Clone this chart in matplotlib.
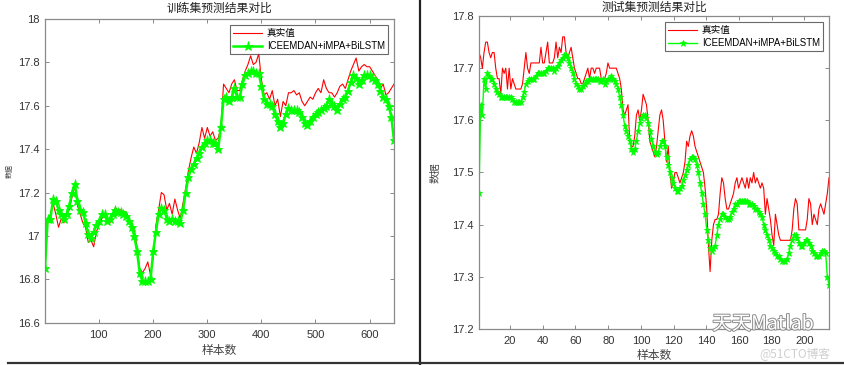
import numpy as np
import matplotlib
matplotlib.use("Agg")
import matplotlib.pyplot as plt
from matplotlib.lines import Line2D
import matplotlib.patheffects as pe

plt.rcParams['font.family'] = ['Liberation Sans', 'Noto Sans CJK SC', 'DejaVu Sans']

# ---------------- data ----------------
train_n = 645
test_n = 215

# training set, read every 5 samples
train_true = [
    17.04, 17.07, 17.10, 17.15, 17.10, 17.04, 17.08, 17.06, 17.11, 17.12,
    17.18, 17.23, 17.14, 17.10, 17.06, 17.04, 16.97, 16.98, 16.95, 17.02,
    17.05, 17.08, 17.10, 17.06, 17.06, 17.10, 17.13, 17.12, 17.12, 17.11,
    17.11, 17.08, 17.05, 17.03, 16.95, 16.85, 16.83, 16.85, 16.88, 16.82,
    16.90, 17.05, 17.12, 17.20, 17.19, 17.12, 17.15, 17.10, 17.17, 17.12,
    17.08, 17.15, 17.22, 17.30, 17.36, 17.41, 17.38, 17.43, 17.50, 17.45,
    17.50, 17.46, 17.48, 17.44, 17.45, 17.50, 17.70, 17.68, 17.66, 17.70,
    17.72, 17.67, 17.67, 17.72, 17.76, 17.79, 17.83, 17.79, 17.80, 17.84,
    17.72, 17.65, 17.66, 17.63, 17.67, 17.60, 17.63, 17.55, 17.62, 17.60,
    17.66, 17.66, 17.67, 17.65, 17.66, 17.62, 17.60, 17.62, 17.64, 17.63,
    17.66, 17.68, 17.66, 17.72, 17.68, 17.66, 17.66, 17.64, 17.66, 17.69,
    17.70, 17.68, 17.72, 17.76, 17.79, 17.82, 17.76, 17.78, 17.79, 17.78,
    17.78, 17.76, 17.74, 17.72, 17.68, 17.70, 17.65, 17.66, 17.68, 17.70,
]
train_pred = [
    16.85, 17.08, 17.08, 17.17, 17.16, 17.12, 17.10, 17.08, 17.10, 17.14,
    17.20, 17.24, 17.16, 17.12, 17.11, 17.06, 17.01, 16.99, 17.02, 17.05,
    17.07, 17.10, 17.10, 17.07, 17.08, 17.10, 17.12, 17.11, 17.11, 17.10,
    17.09, 17.07, 17.04, 17.00, 16.93, 16.83, 16.79, 16.79, 16.79, 16.80,
    16.93, 17.02, 17.10, 17.13, 17.12, 17.08, 17.07, 17.08, 17.07, 17.07,
    17.06, 17.12, 17.20, 17.27, 17.31, 17.33, 17.36, 17.38, 17.41, 17.43,
    17.44, 17.44, 17.43, 17.43, 17.40, 17.50, 17.63, 17.64, 17.62, 17.64,
    17.68, 17.64, 17.64, 17.70, 17.74, 17.75, 17.76, 17.76, 17.75, 17.75,
    17.69, 17.63, 17.61, 17.61, 17.60, 17.56, 17.53, 17.50, 17.52, 17.56,
    17.59, 17.58, 17.58, 17.58, 17.57, 17.55, 17.52, 17.51, 17.53, 17.55,
    17.56, 17.57, 17.58, 17.59, 17.60, 17.63, 17.61, 17.60, 17.58, 17.61,
    17.63, 17.64, 17.67, 17.71, 17.74, 17.73, 17.70, 17.72, 17.74, 17.74,
    17.74, 17.73, 17.72, 17.70, 17.67, 17.64, 17.63, 17.60, 17.55, 17.44,
]

test_true = [
    17.73, 17.72, 17.70, 17.73, 17.75, 17.75, 17.73, 17.72, 17.73, 17.73,
    17.70, 17.68, 17.68, 17.65, 17.70, 17.69, 17.70, 17.66, 17.70, 17.66,
    17.68, 17.67, 17.66, 17.66, 17.66, 17.66, 17.67, 17.70, 17.73, 17.70,
    17.69, 17.71, 17.71, 17.71, 17.71, 17.71, 17.71, 17.74, 17.71, 17.71,
    17.73, 17.75, 17.71, 17.71, 17.71, 17.72, 17.75, 17.72, 17.74, 17.73,
    17.76, 17.76, 17.73, 17.72, 17.73, 17.74, 17.72, 17.70, 17.69, 17.68,
    17.68, 17.67, 17.67, 17.68, 17.69, 17.70, 17.68, 17.70, 17.70, 17.69,
    17.70, 17.70, 17.70, 17.68, 17.68, 17.68, 17.69, 17.71, 17.70, 17.70,
    17.70, 17.70, 17.70, 17.69, 17.68, 17.66, 17.62, 17.61, 17.62, 17.63,
    17.56, 17.55, 17.55, 17.57, 17.61, 17.62, 17.60, 17.62, 17.65, 17.64,
    17.63, 17.60, 17.56, 17.55, 17.54, 17.53, 17.55, 17.58, 17.61, 17.62,
    17.60, 17.56, 17.52, 17.55, 17.50, 17.47, 17.48, 17.50, 17.50, 17.49,
    17.48, 17.49, 17.50, 17.52, 17.56, 17.55, 17.57, 17.58, 17.57, 17.55,
    17.54, 17.53, 17.52, 17.51, 17.50, 17.47, 17.43, 17.36, 17.31, 17.37,
    17.40, 17.41, 17.41, 17.42, 17.46, 17.49, 17.48, 17.45, 17.43, 17.43,
    17.44, 17.45, 17.46, 17.48, 17.49, 17.47, 17.48, 17.49, 17.48, 17.47,
    17.49, 17.47, 17.49, 17.48, 17.50, 17.48, 17.49, 17.48, 17.47, 17.48,
    17.47, 17.42, 17.45, 17.43, 17.41, 17.38, 17.36, 17.42, 17.40, 17.38,
    17.37, 17.37, 17.37, 17.37, 17.37, 17.37, 17.37, 17.39, 17.43, 17.45,
    17.44, 17.39, 17.39, 17.39, 17.39, 17.39, 17.41, 17.45, 17.44, 17.40,
    17.42, 17.41, 17.40, 17.43, 17.44, 17.43, 17.42, 17.44, 17.46, 17.49,
]
test_pred = [
    17.46, 17.63, 17.61, 17.68, 17.66, 17.69, 17.685, 17.68, 17.68, 17.67,
    17.66, 17.655, 17.65, 17.645, 17.645, 17.645, 17.645, 17.645, 17.645, 17.645,
    17.64, 17.635, 17.635, 17.635, 17.635, 17.635, 17.645, 17.655, 17.67, 17.675,
    17.68, 17.68, 17.68, 17.68, 17.685, 17.69, 17.69, 17.69, 17.69, 17.69,
    17.695, 17.70, 17.70, 17.70, 17.70, 17.695, 17.70, 17.705, 17.71, 17.715,
    17.72, 17.725, 17.725, 17.72, 17.71, 17.70, 17.69, 17.68, 17.67, 17.665,
    17.66, 17.66, 17.665, 17.67, 17.675, 17.675, 17.68, 17.68, 17.68, 17.68,
    17.68, 17.68, 17.675, 17.675, 17.68, 17.67, 17.675, 17.68, 17.68, 17.685,
    17.68, 17.675, 17.67, 17.66, 17.645, 17.63, 17.61, 17.59, 17.58, 17.57,
    17.56, 17.545, 17.54, 17.545, 17.56, 17.58, 17.595, 17.605, 17.61, 17.61,
    17.605, 17.595, 17.58, 17.565, 17.55, 17.54, 17.535, 17.54, 17.55, 17.56,
    17.56, 17.55, 17.53, 17.515, 17.50, 17.49, 17.48, 17.47, 17.465, 17.465,
    17.47, 17.475, 17.485, 17.495, 17.505, 17.515, 17.525, 17.53, 17.53, 17.525,
    17.515, 17.50, 17.48, 17.46, 17.44, 17.42, 17.39, 17.37, 17.355, 17.35,
    17.355, 17.36, 17.38, 17.40, 17.41, 17.42, 17.42, 17.415, 17.41, 17.41,
    17.415, 17.425, 17.43, 17.44, 17.44, 17.445, 17.445, 17.445, 17.445, 17.445,
    17.445, 17.44, 17.44, 17.44, 17.435, 17.43, 17.43, 17.425, 17.42, 17.415,
    17.40, 17.39, 17.38, 17.37, 17.36, 17.355, 17.35, 17.345, 17.34, 17.34,
    17.335, 17.33, 17.33, 17.33, 17.335, 17.345, 17.36, 17.37, 17.38, 17.38,
    17.375, 17.365, 17.36, 17.36, 17.365, 17.37, 17.37, 17.365, 17.36, 17.35,
    17.345, 17.34, 17.34, 17.34, 17.345, 17.35, 17.35, 17.345, 17.30, 17.285,
]

labels = ['真实值', 'ICEEMDAN+iMPA+BiLSTM']
titles = ['训练集预测结果对比', '测试集预测结果对比']
xlabel = '样本数'
ylabel = '数据'

train_xticks = [100, 200, 300, 400, 500, 600]
train_yticks = [16.6, 16.8, 17.0, 17.2, 17.4, 17.6, 17.8, 18.0]
train_yticklabels = ['16.6', '16.8', '17', '17.2', '17.4', '17.6', '17.8', '18']
test_xticks = [20, 40, 60, 80, 100, 120, 140, 160, 180, 200]
test_yticks = [17.2, 17.3, 17.4, 17.5, 17.6, 17.7, 17.8]

# ---------------- figure ----------------
W, H = 845, 365
fig = plt.figure(figsize=(W / 100, H / 100), dpi=100)

frame_c = '#8a8a8a'
tick_c = '#333333'
cjk = ['Noto Sans CJK SC', 'DejaVu Sans']


def style(ax):
    for s in ax.spines.values():
        s.set_color(frame_c)
        s.set_linewidth(0.9)
    ax.tick_params(direction='in', length=3, width=0.7, color=frame_c,
                   labelcolor=tick_c, labelsize=8, top=True, right=True)
    ax.tick_params(axis='x', pad=5)
    ax.tick_params(axis='y', pad=4)


def panel(rect, true, pred, n, xticks, yticks, ylim, title, yt_labels=None,
          ylab_size=5, title_pad=2, xlab_pad=1, mk=5, glw=1.0):
    ax = fig.add_axes(rect)
    xt = np.linspace(1, n, len(true))
    xp = np.linspace(1, n, len(pred))
    ax.plot(xt, true, color='red', lw=0.8, label=labels[0])
    ax.plot(xp, pred, color=(0, 1, 0), lw=glw, marker='*', markersize=mk,
            markeredgewidth=0.6, label=labels[1])
    ax.set_xlim(1, n)
    ax.set_ylim(*ylim)
    ax.set_xticks(xticks)
    ax.set_yticks(yticks)
    if yt_labels is not None:
        ax.set_yticklabels(yt_labels)
    style(ax)
    ax.set_title(title, fontsize=8.5, family=cjk, color='#222222', pad=title_pad)
    ax.set_xlabel(xlabel, fontsize=8.5, family=cjk, color='#444444', labelpad=xlab_pad)
    ax.set_ylabel(ylabel, fontsize=ylab_size, family=cjk, color='#444444')
    leg = ax.legend(loc='upper right', frameon=True, fancybox=False,
                    borderpad=0.35, labelspacing=0.3, handlelength=3.0,
                    handletextpad=0.5, borderaxespad=0.6,
                    prop={'family': ['Liberation Sans', 'Noto Sans CJK SC'], 'size': 6.9})
    leg.get_frame().set_edgecolor('#444444')
    leg.get_frame().set_linewidth(0.8)
    return ax


ax1 = panel([45 / W, 1 - 322.7 / H, 349 / W, 303.7 / H], train_true, train_pred, train_n,
            train_xticks, train_yticks, (16.6, 18.0), titles[0],
            yt_labels=train_yticklabels, ylab_size=5, title_pad=5, xlab_pad=3,
            mk=6.5, glw=1.8)
ax1.yaxis.set_label_coords(-0.09, 0.5)

ax2 = panel([479 / W, 1 - 329 / H, 350 / W, 313 / H], test_true, test_pred, test_n,
            test_xticks, test_yticks, (17.2, 17.8), titles[1], ylab_size=7.5,
            title_pad=3.5, xlab_pad=2.5)
ax2.yaxis.set_label_coords(-0.11, 0.5)

# screenshot divider lines
fig.add_artist(Line2D([420.5 / W, 420.5 / W], [0, 1], color='#222222', lw=1.6,
                      transform=fig.transFigure))
fig.add_artist(Line2D([8 / W, 1], [1 - 363 / H, 1 - 363 / H], color='#333333', lw=1.6,
                      transform=fig.transFigure))

# watermark (outlined text)
fig.text(763 / W, 1 - 324 / H, '天天Matlab', fontsize=14, family=cjk, color='white',
         ha='center', va='center',
         path_effects=[pe.withStroke(linewidth=1.4, foreground='#8c8c8c')])
fig.text(795 / W, 1 - 355 / H, '@51CTO博客', fontsize=8.5, family=cjk, color='#cfcfcf',
         ha='center', va='center')

fig.savefig('out.png', dpi=100)
